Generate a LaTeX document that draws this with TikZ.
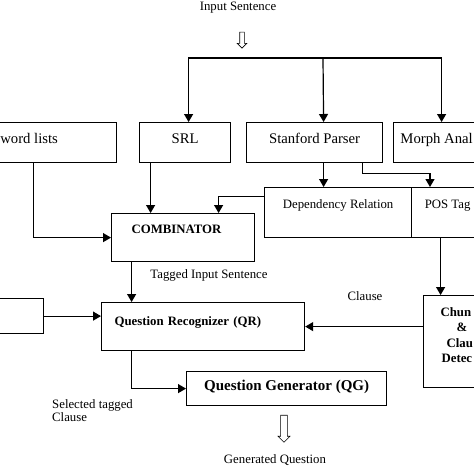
\documentclass[tikz,border=0pt]{standalone}
\usepackage{fontspec}
\setmainfont{Liberation Serif}
\usetikzlibrary{arrows.meta,shapes.arrows}

\tikzset{
  box/.style={draw, line width=1.2pt, inner sep=0pt, anchor=north west},
  toptext/.style={font=\fontsize{14.7}{17}\selectfont},
  midtext/.style={font=\fontsize{12.8}{15}\selectfont},
  boldtext/.style={font=\bfseries\fontsize{12.8}{15.5}\selectfont},
  lbl/.style={font=\fontsize{12.8}{13}\selectfont, inner sep=0pt},
  arr/.style={line width=1.2pt, -{Triangle[length=8pt,width=9pt]}},
  hollow/.style={draw, line width=0.6pt, single arrow, shape border rotate=270,
    single arrow head extend=2.5pt, single arrow head indent=0pt, inner sep=0pt}
}

\begin{document}
\begin{tikzpicture}[x=1pt, y=-1pt]
  \useasboundingbox (0,0) rectangle (474,474);
  \clip (0,0) rectangle (474,474);

  \node[lbl] (insent) at (238,8) {Input Sentence};
  \node[hollow, minimum height=16pt, minimum width=9pt, inner xsep=2pt] (inarr) at (242,39) {};

  \begin{scope}[toptext]
    \node[box, minimum width=175pt, text height=21pt, text depth=19pt] (wl) at (-59,122) {word lists};
    \node[box, minimum width=91pt, text height=21pt, text depth=19pt] (srl) at (139,122) {SRL};
    \node[box, minimum width=136pt, text height=21pt, text depth=19pt] (sp) at (246,122) {Stanford Parser};
    \node[box, minimum width=86pt, text height=21pt, text depth=19pt] (morph) at (393,122) {Morph Anal};
  \end{scope}

  \begin{scope}[midtext]
    \node[box, minimum width=147pt, text height=20.5pt, text depth=29.5pt] (dep) at (264,187) {Dependency Relation};
    \node[box, minimum width=72pt, text height=20.5pt, text depth=29.5pt] (pos) at (411,187) {POS Tag};
  \end{scope}

  \begin{scope}[boldtext]
    \node[box, text width=103pt, inner xsep=20pt, align=left, text height=20pt, text depth=28pt] (comb) at (111,213) {COMBINATOR};
    \node[box, text width=177pt, inner xsep=13pt, align=left, text height=22.5pt, text depth=25.5pt] (qr) at (101,302) {Question Recognizer (QR)};
    \node[box, text width=60pt, inner xsep=17pt, align=left, text height=20.5pt, text depth=71.5pt] (chunk) at (423,295)
      {Chun\\\hspace{16pt}\&\\\hspace{6pt}Clau\\\hspace{1pt}Detec};
    \node[box, minimum width=200pt, text height=19pt, text depth=15pt, font=\bfseries\fontsize{15}{17}\selectfont] (qg) at (186,371) {Question Generator (QG)};
  \end{scope}
  \node[box, minimum width=73pt, minimum height=35pt] (lbox) at (-30,298) {};

  \coordinate (fork) at (323,58);
  \draw[arr] (fork) -| ([xshift=3.5pt]srl.north);
  \draw[arr] (fork) -- ([xshift=9pt]sp.north);
  \draw[arr] (fork) -| ([xshift=5pt]morph.north);

  \draw[arr] ([xshift=4.5pt]wl.south) |- (comb.west);
  \draw[arr] ([xshift=-34.5pt]srl.south) -- ([xshift=-34.5pt]srl.south |- comb.north);
  \draw[arr] ([xshift=9pt]sp.south) -- ([xshift=9pt]sp.south |- dep.north);
  \draw[arr] ([xshift=48pt]sp.south) -- ++(0,10) -| ([xshift=19pt]pos.north west);
  \draw[arr] ([yshift=16pt]dep.west) -| ([xshift=35.5pt]comb.north);
  \draw[arr] ([xshift=-7pt]pos.south) -- ([xshift=-7pt]pos.south |- chunk.north);
  \draw[arr] ([xshift=-51.5pt]comb.south) -- ([xshift=-51.5pt]comb.south |- qr.north);
  \draw[arr] (lbox.east) -- (lbox.east -| qr.west);
  \draw[arr] (chunk.west |- qr.east) -- (qr.east);
  \draw[arr] ([xshift=-71.5pt]qr.south) |- (qg.west);

  \node[lbl] (tagged) at (209,275) {Tagged Input Sentence};
  \node[lbl] (clause) at (365,296) {Clause};
  \node[lbl, anchor=north west, align=left] (seltag) at (52,399) {Selected tagged\\Clause};

  \node[hollow, minimum height=27pt, minimum width=12pt, inner xsep=3pt] (outarr) at (284,427) {};
  \node[lbl] (genq) at (275,460) {Generated Question};
\end{tikzpicture}
\end{document}
